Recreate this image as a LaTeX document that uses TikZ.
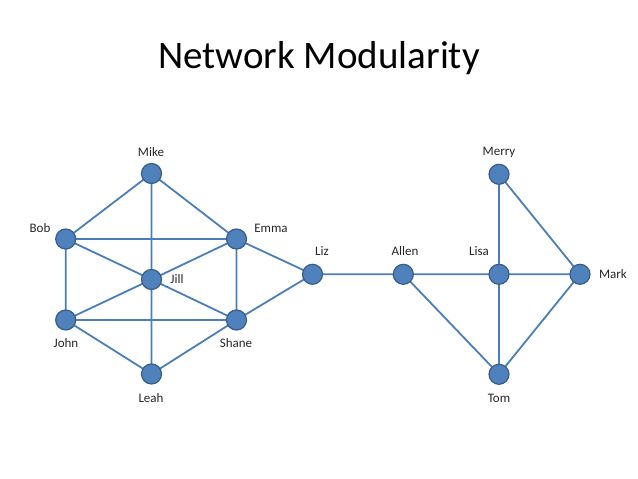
\documentclass[tikz,border=0pt]{standalone}
\usepackage{fontspec}
\setmainfont{Carlito}
\usetikzlibrary{backgrounds}
\definecolor{nodefill}{HTML}{4F81BD}
\definecolor{nodeedge}{HTML}{385D8A}
\definecolor{linecol}{HTML}{4A7EBB}
\begin{document}
\begin{tikzpicture}[x=1pt,y=-1pt,
  vert/.style={circle,fill=nodefill,draw=nodeedge,line width=1.2pt,minimum size=20pt,inner sep=0pt},
  edge/.style={draw=linecol,line width=1.8pt},
  lbl/.style={font=\fontsize{13}{15}\selectfont,text=black!85,inner sep=0pt}]
\useasboundingbox (0,0) rectangle (638,479);
\node[font=\fontsize{39}{44}\selectfont,anchor=base] (title) at (319,68) {Network Modularity};
% nodes
\node[vert] (Mike) at (151.5,173.5) {};
\node[vert] (Bob) at (65.7,239) {};
\node[vert] (Emma) at (236.5,239) {};
\node[vert] (Jill) at (151.5,279.5) {};
\node[vert] (John) at (65.7,320) {};
\node[vert] (Shane) at (236.5,320) {};
\node[vert] (Leah) at (151.5,374) {};
\node[vert] (Liz) at (312.5,274.3) {};
\node[vert] (Allen) at (403.3,274.3) {};
\node[vert] (Lisa) at (499,274.3) {};
\node[vert] (Merry) at (499,174.3) {};
\node[vert] (Mark) at (580,274.3) {};
\node[vert] (Tom) at (499,374.3) {};
% edges
\begin{pgfonlayer}{background}
\path[edge] (Mike.center) -- (Bob.center) (Mike.center) -- (Emma.center) (Mike.center) -- (Jill.center) (Jill.center) -- (Leah.center)
  (Bob.center) -- (Emma.center) (Bob.center) -- (Jill.center) (Bob.center) -- (John.center)
  (Emma.center) -- (Jill.center) (Emma.center) -- (Shane.center) (Emma.center) -- (Liz.center)
  (Jill.center) -- (John.center) (Jill.center) -- (Shane.center) (John.center) -- (Shane.center)
  (John.center) -- (Leah.center) (Shane.center) -- (Leah.center) (Shane.center) -- (Liz.center)
  (Liz.center) -- (Allen.center) (Allen.center) -- (Lisa.center) (Allen.center) -- (Tom.center)
  (Lisa.center) -- (Merry.center) (Lisa.center) -- (Mark.center) (Lisa.center) -- (Tom.center)
  (Merry.center) -- (Mark.center) (Mark.center) -- (Tom.center);
\end{pgfonlayer}
% labels
\node[lbl] (lMike) at (151,152) {Mike};
\node[lbl] (lBob) at (40,228) {Bob};
\node[lbl] (lEmma) at (271,228) {Emma};
\node[lbl] (lJill) at (177,279) {Jill};
\node[lbl] (lJohn) at (66,343) {John};
\node[lbl] (lShane) at (236,343) {Shane};
\node[lbl] (lLeah) at (151,398) {Leah};
\node[lbl] (lLiz) at (322,251) {Liz};
\node[lbl] (lAllen) at (405,251) {Allen};
\node[lbl] (lLisa) at (479,251) {Lisa};
\node[lbl] (lMerry) at (499,152) {Merry};
\node[lbl] (lMark) at (613,274) {Mark};
\node[lbl] (lTom) at (499,398) {Tom};
\end{tikzpicture}
\end{document}
